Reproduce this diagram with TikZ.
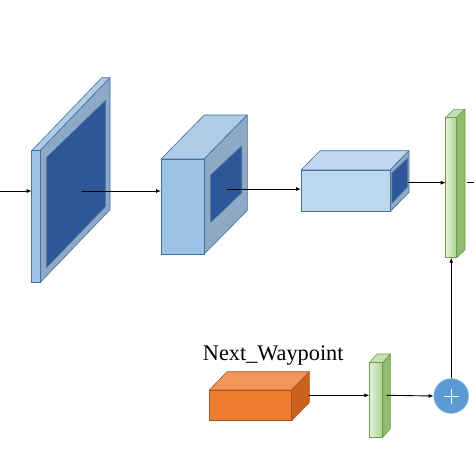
\documentclass[tikz,border=0pt]{standalone}
\usepackage{fontspec}
\setmainfont{Liberation Serif}
\usetikzlibrary{arrows.meta}
\definecolor{bfront}{HTML}{9DC3E6}
\definecolor{btop}{HTML}{AECBE8}
\definecolor{bside}{HTML}{8EA9C6}
\definecolor{bdark}{HTML}{30569A}
\definecolor{bedge}{HTML}{41719C}
\definecolor{cfront}{HTML}{BDD7EE}
\definecolor{ctop}{HTML}{C2D8EE}
\definecolor{gfrontl}{HTML}{E6F2DD}
\definecolor{gfrontr}{HTML}{A9D18E}
\definecolor{gtop}{HTML}{C5E0B4}
\definecolor{gside}{HTML}{8FBC6E}
\definecolor{gedge}{HTML}{6A9A4A}
\definecolor{ofront}{HTML}{ED7D31}
\definecolor{otop}{HTML}{F2955A}
\definecolor{oside}{HTML}{CB631C}
\definecolor{oedge}{HTML}{A9541C}
\definecolor{plusblue}{HTML}{5B9BD5}
\newcommand{\mycuboid}[9]{%
  % #1 x1, #2 y1, #3 x2, #4 y2, #5 dx, #6 dy, #7 top, #8 side, #9 edge
  \filldraw[fill=#7,draw=#9,line width=0.6pt,line join=round] (#1,#2) -- (#3,#2) -- ({#3+#5},{#2+#6}) -- ({#1+#5},{#2+#6}) -- cycle;
  \filldraw[fill=#8,draw=#9,line width=0.6pt,line join=round] (#3,#2) -- ({#3+#5},{#2+#6}) -- ({#3+#5},{#4+#6}) -- (#3,#4) -- cycle;
}
\tikzset{
  conn/.style={line width=0.9pt,-{Latex[length=5pt,width=4pt]}},
  face/.style={draw=#1,line width=0.6pt,inner sep=0pt,outer sep=0pt,anchor=north west},
}
\begin{document}
\begin{tikzpicture}[x=1pt,y=-1pt]
\useasboundingbox (0,0) rectangle (474,474);
\fill[white] (0,0) rectangle (474,474);
% plate 1
\mycuboid{31.7}{150.7}{40}{282.7}{70}{-73}{btop}{bside}{bedge}
\node[face=bedge,fill=bfront,minimum width=8.3pt,minimum height=132pt] (p1) at (31.7,150.7) {};
\filldraw[fill=bdark,draw=bedge,line width=0.6pt] (46.7,157.3) -- (105.3,100.7) -- (105.3,206.7) -- (46.7,267.3) -- cycle;
% box 2
\mycuboid{161}{159}{204}{254.3}{43.3}{-44}{btop}{bside}{bedge}
\node[face=bedge,fill=bfront,minimum width=43pt,minimum height=95.3pt] (p2) at (161,159) {};
\filldraw[fill=bdark,draw=bedge,line width=0.6pt] (210.7,175) -- (241.7,146) -- (241.7,192.7) -- (210.7,222.3) -- cycle;
% box 3
\mycuboid{301}{170}{390}{211.7}{19}{-19.3}{ctop}{bside}{bedge}
\node[face=bedge,fill=cfront,minimum width=89pt,minimum height=41.7pt] (p3) at (301,170) {};
\filldraw[fill=bdark,draw=bedge,line width=0.6pt] (392,173) -- (407.3,158.5) -- (407.3,187) -- (392,203) -- cycle;
% green bar 1
\mycuboid{445.7}{117.3}{456.7}{257.7}{8.3}{-8}{gtop}{gside}{gedge}
\node[face=gedge,left color=gfrontl,right color=gfrontr,minimum width=11pt,minimum height=140.4pt] (g1) at (445.7,117.3) {};
% orange box
\mycuboid{209.3}{390}{291.7}{420.7}{17.7}{-18.3}{otop}{oside}{oedge}
\node[face=oedge,fill=ofront,minimum width=82.4pt,minimum height=30.7pt] (ob) at (209.3,390) {};
% green bar 2
\mycuboid{369.3}{362.7}{382.7}{437.3}{7.7}{-8.7}{gtop}{gside}{gedge}
\node[face=gedge,left color=gfrontl,right color=gfrontr,minimum width=13.4pt,minimum height=74.6pt] (g2) at (369.3,362.7) {};
% plus
\node[circle,fill=plusblue,draw=plusblue!80!white,line width=0.6pt,minimum size=34.6pt,inner sep=0pt] (plus) at (451.2,396) {};
\draw[white,line width=1pt] ([xshift=-7.5pt]plus.center) -- ([xshift=7.5pt]plus.center)
  ([yshift=-7.5pt]plus.center) -- ([yshift=7.5pt]plus.center);
% label
\node[anchor=base west,inner sep=0pt,font=\fontsize{22.3}{26}\selectfont] (lbl) at (202.7,360) {Next\_Waypoint};
% connector endpoints
\coordinate (in0) at (0,191);
\coordinate (s1) at (81.7,191);
\coordinate (s2) at (226.7,189);
\coordinate (s3) at (408.3,182.7);
\coordinate (s4) at (467.3,182.7);
\coordinate (e4) at (474,182.7);
\coordinate (s5) at (309.3,395.3);
\coordinate (s6) at (386.7,395.3);
% connectors
\draw[conn] (in0) -- (in0 -| p1.west);
\draw[conn] (s1) -- (s1 -| p2.west);
\draw[conn] (s2) -- (s2 -| p3.west);
\draw[conn] (s3) -- (s3 -| g1.west);
\draw[line width=0.9pt] (s4) -- (e4);
\draw[conn] (s5) -- (s5 -| g2.west);
\draw[conn] (s6) -- (plus.west);
\draw[conn] (plus.north) -- (g1.south);
\end{tikzpicture}
\end{document}
